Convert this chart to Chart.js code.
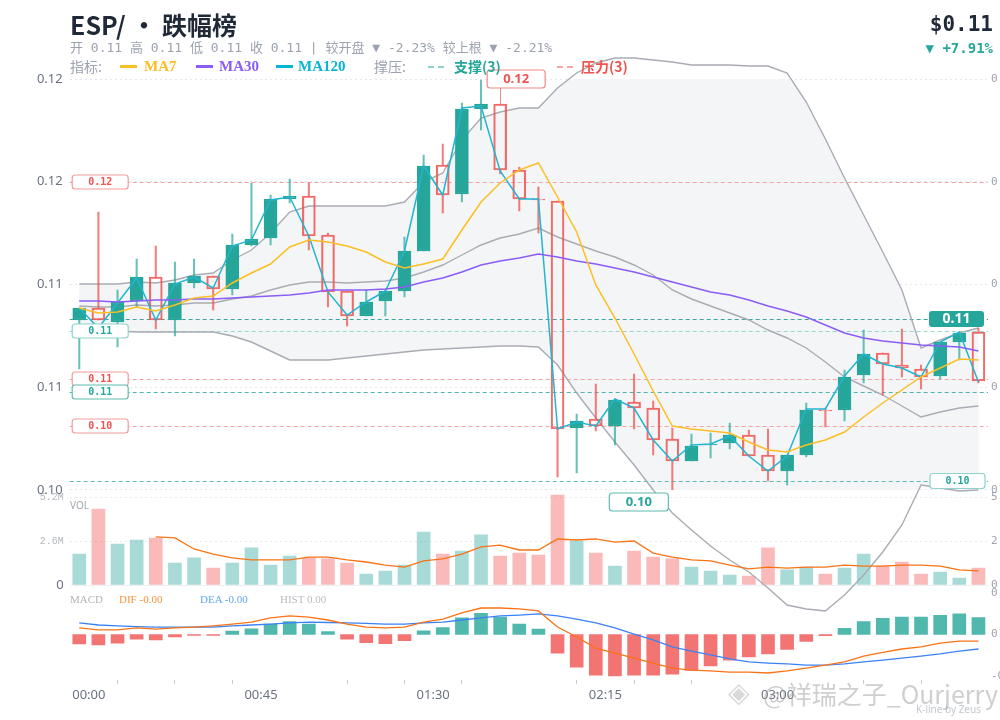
<!DOCTYPE html>
<html>
<head>
<meta charset="utf-8">
<script src="https://cdn.jsdelivr.net/npm/chart.js@4.4.1/dist/chart.umd.min.js"></script>
<style>
  body { margin: 0; background: #fff; }
  #wrap { position: relative; width: 1000px; height: 720px; overflow: hidden; }
  #wrap canvas { position: absolute; left: 0; top: 0; }
  .t { position: absolute; white-space: nowrap; }
  .cjk { font-family: 'Noto Sans CJK SC', 'Noto Sans', sans-serif; }
  .mono { font-family: 'DejaVu Sans Mono', 'Noto Sans CJK SC', monospace; }
  .serif { font-family: 'Liberation Serif', serif; }
</style>
</head>
<body>
<div id="wrap">
  <canvas id="chart" width="1000" height="720"></canvas>

  <div class="t cjk" style="left:70px;top:9px;line-height:30px;font-size:25px;font-weight:700;color:#1f2937">ESP/ • 跌幅榜</div>
  <div class="t mono" style="right:7px;top:11px;line-height:26px;font-size:21px;font-weight:700;color:#1f2937">$0.11</div>
  <div class="t mono" style="right:7px;top:39px;line-height:18px;font-size:14px;font-weight:700;color:#26a69a">▼ +7.91%</div>
  <div class="t mono" style="left:70px;top:39px;line-height:18px;font-size:13px;color:#9ca3af">开 0.11 高 0.11 低 0.11 收 0.11 | 较开盘 ▼ -2.23% 较上根 ▼ -2.21%</div>

  <div class="t cjk" style="left:70px;top:57px;line-height:18px;font-size:14px;color:#9ca3af">指标:</div>
  <div class="t" style="left:120px;top:65px;width:17px;height:3px;background:#fbbf24"></div>
  <div class="t serif" style="left:144px;top:57px;line-height:18px;font-size:15px;font-weight:700;color:#fbbf24">MA7</div>
  <div class="t" style="left:196px;top:65px;width:17px;height:3px;background:#8b5cf6"></div>
  <div class="t serif" style="left:219px;top:57px;line-height:18px;font-size:15px;font-weight:700;color:#8b5cf6">MA30</div>
  <div class="t" style="left:276px;top:65px;width:17px;height:3px;background:#06b6d4"></div>
  <div class="t serif" style="left:298px;top:57px;line-height:18px;font-size:15px;font-weight:700;color:#06b6d4">MA120</div>
  <div class="t cjk" style="left:374px;top:57px;line-height:18px;font-size:14px;color:#9ca3af">撑压:</div>
  <div class="t" style="left:428px;top:66px;width:16px;border-top:2px dashed #8fd3cb"></div>
  <div class="t cjk" style="left:454px;top:57px;line-height:18px;font-size:14px;font-weight:700;color:#26a69a">支撑(3)</div>
  <div class="t" style="left:557px;top:66px;width:16px;border-top:2px dashed #f5a3a3"></div>
  <div class="t cjk" style="left:581px;top:57px;line-height:18px;font-size:14px;font-weight:700;color:#ef5350">压力(3)</div>

  <div class="t" style="left:70px;top:498px;line-height:14px;font-size:10px;font-family:'Noto Sans',sans-serif;color:#a3a8b0">VOL</div>
  <div class="t serif" style="left:70px;top:592px;line-height:14px;font-size:11px;color:#b0b4bb">MACD</div>
  <div class="t serif" style="left:119px;top:592px;line-height:14px;font-size:11px;color:#fb923c">DIF -0.00</div>
  <div class="t serif" style="left:200px;top:592px;line-height:14px;font-size:11px;color:#60a5fa">DEA -0.00</div>
  <div class="t serif" style="left:280px;top:592px;line-height:14px;font-size:11px;color:#b8bcc2">HIST 0.00</div>

  <div class="t" style="left:728px;top:677px;line-height:32px;font-size:28px;color:rgba(170,170,170,0.45);font-family:'DejaVu Sans',sans-serif">◈</div>
  <div class="t cjk" style="left:763px;top:678px;line-height:30px;font-size:25px;color:rgba(160,160,160,0.5)">@祥瑞之子_Ourjerry</div>
  <div class="t" style="left:916px;top:703px;line-height:13px;font-size:10px;font-family:'Noto Sans',sans-serif;color:rgba(170,175,185,0.7)">K-line by Zeus</div>
</div>

<script>
// 5-minute candles, 00:00 .. 03:55
const open = [0.10900, 0.10960, 0.10890, 0.10995, 0.11115, 0.10900, 0.11085, 0.11120, 0.11055, 0.11275, 0.11310, 0.11505, 0.11520, 0.11325, 0.11045, 0.10920, 0.10995, 0.11045, 0.11245, 0.11675, 0.11530, 0.11955, 0.11980, 0.11650, 0.11505, 0.11495, 0.10360, 0.10405, 0.10370, 0.10490, 0.10460, 0.10305, 0.10195, 0.10275, 0.10285, 0.10325, 0.10225, 0.10145, 0.10225, 0.10450, 0.10450, 0.10625, 0.10735, 0.10675, 0.10655, 0.10620, 0.10790, 0.10840];
const high = [0.10960, 0.11440, 0.11050, 0.11205, 0.11270, 0.11190, 0.11205, 0.11120, 0.11330, 0.11585, 0.11525, 0.11605, 0.11585, 0.11335, 0.11045, 0.11050, 0.11050, 0.11315, 0.11725, 0.11780, 0.11985, 0.12100, 0.11980, 0.11665, 0.11565, 0.11495, 0.10430, 0.10580, 0.10505, 0.10630, 0.10495, 0.10360, 0.10330, 0.10335, 0.10385, 0.10350, 0.10355, 0.10225, 0.10485, 0.10460, 0.10650, 0.10850, 0.10735, 0.10855, 0.10675, 0.10790, 0.10835, 0.10860];
const low = [0.10655, 0.10900, 0.10765, 0.10965, 0.10855, 0.10820, 0.11060, 0.10950, 0.11025, 0.11270, 0.11275, 0.11485, 0.11250, 0.10965, 0.10870, 0.10920, 0.10920, 0.11015, 0.11245, 0.11435, 0.11490, 0.11850, 0.11630, 0.11445, 0.11335, 0.10115, 0.10135, 0.10345, 0.10275, 0.10355, 0.10225, 0.10050, 0.10195, 0.10210, 0.10255, 0.10220, 0.10095, 0.10075, 0.10215, 0.10365, 0.10395, 0.10585, 0.10525, 0.10615, 0.10555, 0.10605, 0.10700, 0.10585];
const close = [0.10960, 0.10900, 0.10990, 0.11115, 0.10900, 0.11085, 0.11120, 0.11055, 0.11275, 0.11305, 0.11505, 0.11520, 0.11320, 0.11040, 0.10920, 0.10990, 0.11045, 0.11245, 0.11670, 0.11525, 0.11955, 0.11980, 0.11650, 0.11505, 0.11500, 0.10355, 0.10395, 0.10370, 0.10500, 0.10460, 0.10300, 0.10195, 0.10270, 0.10280, 0.10325, 0.10220, 0.10145, 0.10225, 0.10450, 0.10445, 0.10615, 0.10730, 0.10680, 0.10660, 0.10615, 0.10790, 0.10835, 0.10595];

const ma7 = [0.10960, 0.10935, 0.10940, 0.10965, 0.10945, 0.10975, 0.11010, 0.11020, 0.11085, 0.11135, 0.11180, 0.11265, 0.11300, 0.11290, 0.11270, 0.11240, 0.11190, 0.11160, 0.11180, 0.11205, 0.11350, 0.11490, 0.11585, 0.11650, 0.11685, 0.11515, 0.11340, 0.11075, 0.10910, 0.10730, 0.10545, 0.10370, 0.10355, 0.10345, 0.10335, 0.10290, 0.10250, 0.10240, 0.10275, 0.10300, 0.10340, 0.10415, 0.10485, 0.10550, 0.10615, 0.10660, 0.10705, 0.10700];
const ma30 = [0.10995, 0.10995, 0.10990, 0.10995, 0.11000, 0.11000, 0.11005, 0.11005, 0.11010, 0.11015, 0.11020, 0.11025, 0.11035, 0.11050, 0.11050, 0.11050, 0.11055, 0.11065, 0.11090, 0.11110, 0.11140, 0.11175, 0.11195, 0.11210, 0.11230, 0.11215, 0.11195, 0.11180, 0.11160, 0.11140, 0.11115, 0.11090, 0.11065, 0.11040, 0.11025, 0.11000, 0.10970, 0.10945, 0.10915, 0.10875, 0.10835, 0.10810, 0.10795, 0.10785, 0.10775, 0.10770, 0.10765, 0.10745];
const ma120 = [0.10960, 0.10860, 0.10985, 0.11110, 0.10900, 0.11080, 0.11115, 0.11060, 0.11270, 0.11300, 0.11500, 0.11515, 0.11320, 0.11040, 0.10925, 0.10990, 0.11045, 0.11245, 0.11670, 0.11525, 0.11960, 0.11970, 0.11645, 0.11505, 0.11505, 0.10355, 0.10390, 0.10370, 0.10505, 0.10460, 0.10300, 0.10195, 0.10275, 0.10280, 0.10320, 0.10220, 0.10145, 0.10220, 0.10455, 0.10455, 0.10620, 0.10730, 0.10680, 0.10660, 0.10615, 0.10790, 0.10840, 0.10590];

const bollUpper = [0.11080, 0.11080, 0.11080, 0.11090, 0.11085, 0.11100, 0.11125, 0.11135, 0.11200, 0.11250, 0.11335, 0.11440, 0.11470, 0.11470, 0.11470, 0.11470, 0.11470, 0.11490, 0.11590, 0.11635, 0.11800, 0.11910, 0.11940, 0.11960, 0.11960, 0.12060, 0.12135, 0.12185, 0.12210, 0.12210, 0.12200, 0.12190, 0.12175, 0.12175, 0.12175, 0.12170, 0.12170, 0.12135, 0.11990, 0.11805, 0.11610, 0.11425, 0.11240, 0.11050, 0.10760, 0.10800, 0.10835, 0.10860];
const bollMid = [0.10970, 0.10965, 0.10965, 0.10975, 0.10970, 0.10975, 0.10985, 0.10985, 0.11005, 0.11020, 0.11050, 0.11075, 0.11090, 0.11090, 0.11085, 0.11090, 0.11095, 0.11110, 0.11140, 0.11175, 0.11225, 0.11275, 0.11310, 0.11330, 0.11360, 0.11315, 0.11280, 0.11245, 0.11215, 0.11175, 0.11125, 0.11050, 0.11005, 0.10970, 0.10935, 0.10900, 0.10850, 0.10810, 0.10760, 0.10690, 0.10615, 0.10570, 0.10525, 0.10470, 0.10415, 0.10440, 0.10460, 0.10470];
const bollLower = [0.10850, 0.10850, 0.10845, 0.10840, 0.10840, 0.10840, 0.10840, 0.10840, 0.10820, 0.10790, 0.10745, 0.10700, 0.10700, 0.10700, 0.10710, 0.10720, 0.10730, 0.10740, 0.10750, 0.10755, 0.10760, 0.10765, 0.10770, 0.10770, 0.10765, 0.10675, 0.10535, 0.10410, 0.10290, 0.10175, 0.10050, 0.09935, 0.09850, 0.09770, 0.09700, 0.09640, 0.09560, 0.09475, 0.09455, 0.09445, 0.09525, 0.09625, 0.09740, 0.09875, 0.10075, 0.10060, 0.10045, 0.10050];

// volume in millions
const volume = [1.83, 4.49, 2.42, 2.66, 2.78, 1.30, 1.60, 1.00, 1.30, 2.19, 1.18, 1.71, 1.60, 1.54, 1.30, 0.65, 0.83, 1.18, 3.13, 1.83, 2.00, 2.96, 1.71, 1.89, 1.77, 5.32, 2.60, 1.89, 1.12, 2.00, 1.65, 1.54, 1.06, 0.83, 0.59, 0.53, 2.19, 0.89, 1.06, 0.65, 1.00, 1.83, 1.12, 1.36, 0.65, 0.77, 0.41, 1.00];
const volMA = [null, null, null, null, 2.84, 2.78, 2.13, 1.83, 1.60, 1.48, 1.48, 1.48, 1.65, 1.65, 1.48, 1.36, 1.18, 1.06, 1.42, 1.54, 1.83, 2.25, 2.36, 2.07, 2.07, 2.72, 2.66, 2.72, 2.54, 2.60, 1.89, 1.65, 1.48, 1.42, 1.18, 0.95, 1.06, 1.00, 1.06, 1.06, 1.18, 1.12, 1.12, 1.18, 1.18, 1.12, 0.89, 0.83];

const macdHist = [-0.00023, -0.00025, -0.00021, -0.00011, -0.00013, -0.00006, -0.00002, -0.00002, 0.00008, 0.00014, 0.00025, 0.00031, 0.00025, 0.00007, -0.00011, -0.00020, -0.00022, -0.00015, 0.00009, 0.00017, 0.00040, 0.00051, 0.00042, 0.00025, 0.00013, -0.00045, -0.00079, -0.00098, -0.00100, -0.00098, -0.00098, -0.00096, -0.00087, -0.00076, -0.00062, -0.00054, -0.00047, -0.00036, -0.00017, -0.00003, 0.00015, 0.00031, 0.00039, 0.00042, 0.00042, 0.00046, 0.00050, 0.00041];
const macdDif = [0.00016, 0.00011, 0.00011, 0.00016, 0.00013, 0.00016, 0.00018, 0.00021, 0.00025, 0.00030, 0.00040, 0.00045, 0.00042, 0.00035, 0.00025, 0.00018, 0.00016, 0.00018, 0.00030, 0.00037, 0.00052, 0.00064, 0.00064, 0.00062, 0.00057, 0.00018, -0.00006, -0.00033, -0.00045, -0.00057, -0.00069, -0.00081, -0.00086, -0.00088, -0.00091, -0.00091, -0.00093, -0.00088, -0.00081, -0.00074, -0.00066, -0.00052, -0.00043, -0.00035, -0.00030, -0.00021, -0.00016, -0.00016];
const macdDea = [0.00028, 0.00023, 0.00021, 0.00019, 0.00018, 0.00018, 0.00018, 0.00018, 0.00021, 0.00023, 0.00025, 0.00028, 0.00030, 0.00029, 0.00028, 0.00027, 0.00025, 0.00025, 0.00028, 0.00030, 0.00035, 0.00040, 0.00045, 0.00047, 0.00050, 0.00045, 0.00037, 0.00028, 0.00016, 0.00001, -0.00013, -0.00030, -0.00040, -0.00049, -0.00059, -0.00066, -0.00069, -0.00071, -0.00074, -0.00074, -0.00071, -0.00066, -0.00062, -0.00057, -0.00052, -0.00047, -0.00040, -0.00035];

// support / resistance levels and current price
const supportLevels = [0.10845, 0.10540, 0.10095];
const resistLevels = [0.11590, 0.10605, 0.10370];
const lastPrice = 0.10905;

// axes
const timeLabels = ['00:00', '00:45', '01:30', '02:15', '03:00'];
const timeLabelPos = [0.5, 9.5, 18.5, 27.5, 36.5];
const tickMarkPos = [3.5, 6.5, 9.5, 15.5, 18.5, 21.5, 27.5, 30.5, 33.5, 42.5, 45.5];
const priceTickLabels = ['0.10', '0.11', '0.11', '0.12', '0.12'];
const volTicks = [0, 2.6, 5.2];
const volTickLabels = ['0', '2.6M', '5.2M'];
const macdTicks = [-0.001, 0, 0.001];

const PRICE_MIN = 0.1005, PRICE_MAX = 0.12105;

const GREEN = '#26a69a';
const RED = '#ef5350';

const up = close.map((c, i) => c >= open[i]);
const bodyTop = close.map((c, i) => Math.max(c, open[i]));
const bodyBot = close.map((c, i) => Math.min(c, open[i]));
const pts = arr => arr.map((v, i) => ({ x: i, y: v }));
const xTickPos = [...new Set([...timeLabelPos, ...tickMarkPos, 12.5, 24.5, 39.5])].sort((a, b) => a - b);
const AXIS_W = 69.7;

function line(data, color, yAxisID, extra) {
  return Object.assign({
    type: 'line', data: pts(data), yAxisID, borderColor: color, borderWidth: 1.5,
    pointRadius: 0, tension: 0, fill: false, order: 0
  }, extra || {});
}

function wick(from, to) {
  return {
    type: 'bar', yAxisID: 'y', order: 2, grouped: false, barThickness: 1.4,
    data: from.map((v, i) => ({ x: i, y: [v, to[i]] })),
    backgroundColor: up.map(u => u ? 'rgba(38,166,154,0.7)' : 'rgba(239,83,80,0.75)'),
    borderWidth: 0
  };
}

function box(ctx, x, y, w, h, stroke, fill) {
  ctx.beginPath();
  ctx.roundRect(x, y, w, h, 3);
  ctx.fillStyle = fill;
  ctx.fill();
  if (stroke) {
    ctx.strokeStyle = stroke;
    ctx.lineWidth = 1.2;
    ctx.stroke();
  }
}

function boxText(ctx, text, cx, cy, color, font) {
  ctx.fillStyle = color;
  ctx.font = font;
  ctx.textAlign = 'center';
  ctx.textBaseline = 'middle';
  ctx.fillText(text, cx, cy + 0.5);
}

const overlay = {
  id: 'overlay',
  beforeDatasetsDraw(chart) {
    const { ctx, chartArea: a, scales: { x, y } } = chart;
    // bollinger band fill, clipped to price panel
    ctx.save();
    ctx.beginPath();
    ctx.rect(a.left, y.top, a.right - a.left, y.bottom - y.top);
    ctx.clip();
    ctx.beginPath();
    bollUpper.forEach((v, i) => {
      const px = x.getPixelForValue(i), py = y.getPixelForValue(v);
      i ? ctx.lineTo(px, py) : ctx.moveTo(px, py);
    });
    for (let i = bollLower.length - 1; i >= 0; i--) {
      ctx.lineTo(x.getPixelForValue(i), y.getPixelForValue(bollLower[i]));
    }
    ctx.closePath();
    ctx.fillStyle = '#f4f5f7';
    ctx.fill();
    ctx.restore();

    // level lines
    const lines = [
      [resistLevels[0], '#f5a3a3'], [resistLevels[1], '#f5a3a3'], [resistLevels[2], '#f5a3a3'],
      [supportLevels[0], '#9ad5ce'], [supportLevels[1], '#4db6ac'], [supportLevels[2], '#5fbcb2'],
      [lastPrice, '#3aa79c']
    ];
    ctx.save();
    ctx.setLineDash([4, 3]);
    ctx.lineWidth = 1;
    lines.forEach(([v, c]) => {
      const py = Math.round(y.getPixelForValue(v)) + 0.5;
      ctx.strokeStyle = c;
      ctx.beginPath();
      ctx.moveTo(a.left, py);
      ctx.lineTo(a.right, py);
      ctx.stroke();
    });
    ctx.restore();
  },
  afterDatasetsDraw(chart) {
    const { ctx, chartArea: a, scales: { x, y } } = chart;
    ctx.save();
    const monoSmall = 'bold 10px "DejaVu Sans Mono", monospace';
    // left boxes
    const left = [
      [resistLevels[0], '#f29b9b', RED], [resistLevels[1], '#f29b9b', RED], [resistLevels[2], '#f29b9b', RED],
      [supportLevels[0], '#8fd3cb', GREEN], [supportLevels[1], '#5fbcb2', GREEN]
    ];
    left.forEach(([v, stroke, col]) => {
      const py = y.getPixelForValue(v);
      box(ctx, a.left + 2.5, py - 7, 56, 14, stroke, '#fff');
      boxText(ctx, v.toFixed(2), a.left + 30.5, py, col, monoSmall);
    });
    // right: support outline box
    let py = y.getPixelForValue(supportLevels[2]);
    box(ctx, a.right - 58, py - 7.5, 55, 15, '#8fd3cb', '#fff');
    boxText(ctx, supportLevels[2].toFixed(2), a.right - 30.5, py, GREEN, monoSmall);
    // right: last price filled box
    py = y.getPixelForValue(lastPrice);
    box(ctx, a.right - 59, py - 8, 55, 16, null, GREEN);
    boxText(ctx, lastPrice.toFixed(2), a.right - 31.5, py, '#fff', 'bold 14px "Noto Sans", sans-serif');

    // max high marker
    const maxHigh = Math.max(...high);
    const hiIdx = 22;
    const hx = x.getPixelForValue(hiIdx);
    const hy = y.getPixelForValue(maxHigh);
    ctx.strokeStyle = '#f08a8a';
    ctx.lineWidth = 1;
    ctx.beginPath();
    ctx.moveTo(Math.round(hx) + 0.5, hy + 8);
    ctx.lineTo(Math.round(hx) + 0.5, y.getPixelForValue(high[hiIdx]));
    ctx.stroke();
    box(ctx, hx - 13, hy - 10, 58, 18, '#f08a8a', '#fff');
    boxText(ctx, maxHigh.toFixed(2), hx + 16, hy - 1, RED, 'bold 13px "Noto Sans", sans-serif');

    // min low marker
    const minLow = Math.min(...low);
    const loIdx = low.indexOf(minLow);
    const lx = x.getPixelForValue(loIdx);
    const ly = y.getPixelForValue(minLow);
    box(ctx, lx - 63, ly + 3, 59, 18, '#5fbcb2', '#fff');
    boxText(ctx, minLow.toFixed(2), lx - 33.5, ly + 12, GREEN, 'bold 13px "Noto Sans", sans-serif');
    ctx.restore();
  },
  afterDraw(chart) {
    const { ctx, scales } = chart;
    ctx.save();
    ctx.font = '11px "DejaVu Sans Mono", monospace';
    ctx.fillStyle = '#9ca3af';
    ctx.textAlign = 'left';
    ctx.textBaseline = 'middle';
    scales.y.ticks.forEach(t => ctx.fillText(t.value.toFixed(4), 991, scales.y.getPixelForValue(t.value)));
    scales.yv.ticks.forEach((t, i) => ctx.fillText(volTickLabels[i], 991, scales.yv.getPixelForValue(t.value)));
    scales.ym.ticks.forEach(t => ctx.fillText(t.value.toFixed(4), 991, scales.ym.getPixelForValue(t.value)));
    ctx.restore();
  }
};

const datasets = [
  line(ma7, '#fbbf24', 'y'),
  line(ma30, '#8b5cf6', 'y'),
  line(ma120, '#22b5d0', 'y'),
  {
    type: 'bar', yAxisID: 'y', order: 1, grouped: false, barThickness: 13, minBarLength: 1,
    data: open.map((o, i) => ({ x: i, y: [o, close[i]] })),
    backgroundColor: up.map(u => u ? GREEN : 'rgba(255,255,255,0)'),
    borderColor: up.map(u => u ? GREEN : 'rgba(239,83,80,0.85)'),
    borderWidth: 1.5, borderSkipped: false
  },
  wick(bodyTop, high),
  wick(low, bodyBot),
  line(bollUpper, '#a9acb3', 'y', { order: 3, clip: false, borderWidth: 1.4 }),
  line(bollMid, '#a9acb3', 'y', { order: 3, clip: false, borderWidth: 1.4 }),
  line(bollLower, '#a9acb3', 'y', { order: 3, clip: false, borderWidth: 1.4 }),
  {
    type: 'bar', yAxisID: 'yv', order: 4, grouped: false, barThickness: 13,
    data: pts(volume),
    backgroundColor: up.map(u => u ? 'rgba(38,166,154,0.4)' : 'rgba(239,83,80,0.4)')
  },
  line(volMA, '#f97316', 'yv', { borderWidth: 1.3 }),
  {
    type: 'bar', yAxisID: 'ym', order: 4, grouped: false, barThickness: 13,
    data: pts(macdHist),
    backgroundColor: macdHist.map(v => v >= 0 ? 'rgba(38,166,154,0.8)' : 'rgba(239,83,80,0.8)')
  },
  line(macdDif, '#f97316', 'ym', { borderWidth: 1.3 }),
  line(macdDea, '#3b82f6', 'ym', { borderWidth: 1.3 })
];

const gridDots = { color: '#e3e6ea', lineWidth: 1, drawTicks: false };

new Chart(document.getElementById('chart'), {
  type: 'bar',
  data: { datasets },
  options: {
    responsive: false,
    animation: false,
    events: [],
    layout: { padding: { top: 79, right: 12, bottom: 0, left: 0 } },
    plugins: { legend: { display: false }, tooltip: { enabled: false } },
    scales: {
      x: {
        type: 'linear', min: -0.5, max: 47.5, offset: false,
        afterBuildTicks: s => { s.ticks = xTickPos.map(v => ({ value: v })); },
        afterFit: s => { s.height = 40; },
        ticks: {
          autoSkip: false, maxRotation: 0, padding: 3, color: '#6b7280',
          font: { family: 'Noto Sans', size: 13 },
          callback: v => { const k = timeLabelPos.indexOf(v); return k >= 0 ? timeLabels[k] : ''; }
        },
        grid: {
          drawOnChartArea: false, drawTicks: true, tickLength: 4,
          color: c => (c.tick && tickMarkPos.includes(c.tick.value)) ? '#c4c8cf' : 'rgba(0,0,0,0)'
        },
        border: { display: false }
      },
      ym: {
        type: 'linear', position: 'left', stack: 'panes', stackWeight: 95,
        min: -0.0010988, max: 0.0011955,
        afterBuildTicks: s => { s.ticks = macdTicks.map(v => ({ value: v })); },
        afterFit: s => { s.width = AXIS_W; },
        ticks: { display: false },
        grid: { display: false },
        border: { display: false }
      },
      yv: {
        type: 'linear', position: 'left', stack: 'panes', stackWeight: 95,
        min: 0, max: 5.615,
        afterBuildTicks: s => { s.ticks = volTicks.map(v => ({ value: v })); },
        afterFit: s => { s.width = AXIS_W; },
        ticks: {
          padding: 6,
          callback: (v, i) => volTickLabels[i],
          font: c => (c.tick && c.tick.value === 0) ? { family: 'Noto Sans', size: 13 } : { family: 'Liberation Mono', size: 10 },
          color: c => (c.tick && c.tick.value === 0) ? '#6b7280' : '#b4b8bf'
        },
        grid: Object.assign({}, gridDots, { color: c => (c.tick && c.tick.value === 0) ? '#edeff2' : '#e8eaee' }),
        border: { display: false, dash: c => (c.tick && c.tick.value === 0) ? [] : [2, 3] }
      },
      y: {
        type: 'linear', position: 'left', stack: 'panes', stackWeight: 411,
        min: PRICE_MIN, max: PRICE_MAX,
        afterBuildTicks: s => {
          s.ticks = priceTickLabels.map((_, k) => ({ value: PRICE_MIN + k * (PRICE_MAX - PRICE_MIN) / 4 }));
        },
        afterFit: s => { s.width = AXIS_W; },
        ticks: {
          padding: 7, color: '#6b7280',
          font: { family: 'Noto Sans', size: 13 },
          callback: (v, i) => priceTickLabels[i]
        },
        grid: gridDots,
        border: { display: false, dash: [2, 3] }
      }
    }
  },
  plugins: [overlay]
});
</script>
</body>
</html>
